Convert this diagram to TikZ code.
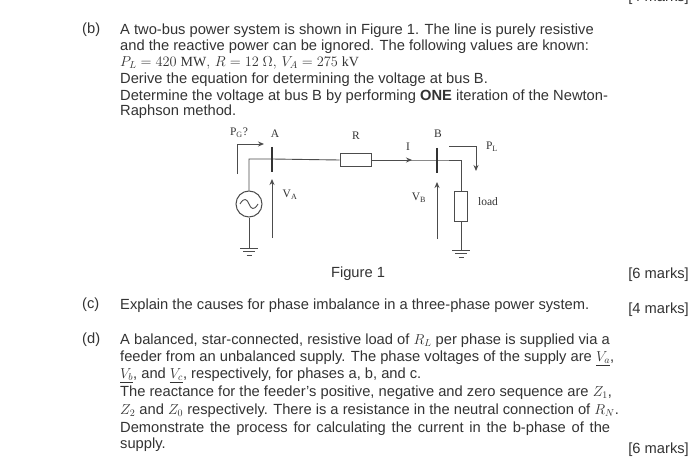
\documentclass[tikz,border=0pt]{standalone}
\usepackage{fontspec}
\setmainfont{Liberation Sans}
\newfontfamily\fig{Liberation Serif}
\usepackage{tikz}
\usetikzlibrary{arrows.meta}
\begin{document}
\begin{tikzpicture}[x=1pt,y=-1pt]
\tikzstyle{line}=[anchor=west,inner sep=0pt,text=black!80,font=\fontsize{14.7}{14.7}\selectfont]
\tikzstyle{marks}=[anchor=east,inner sep=0pt,text=black!80,font=\fontsize{14.7}{14.7}\selectfont]
\tikzstyle{lbl}=[inner sep=0pt,text=black!80,font=\fig\fontsize{11.5}{11.5}\selectfont]
\tikzstyle{wire}=[draw=black!70,line width=0.9pt]
\tikzstyle{bar}=[draw=black!80,line width=1.8pt]
\tikzstyle{flow}=[draw=black!70,line width=0.9pt,-{Stealth[length=6pt,width=5pt]}]
\tikzstyle{box}=[rectangle,draw=black!70,line width=1pt,fill=white,inner sep=0pt]
\useasboundingbox[fill=white] (0,0) rectangle (700,473);
\node [marks] (top) at (689,-2) {[4 marks]};
\node [line] (b) at (82,30) {(b)};
\node [line] (b1) at (120,31) {A two-bus power system is shown in Figure 1. The line is purely resistive};
\node [line] (b2) at (120,47) {and the reactive power can be ignored. The following values are known:};
\node [line,font=\fontsize{14}{14}\selectfont] (b3) at (120,63) {$P_L=420~\mbox{\fig MW},\,R=12~\Omega,\,V_A=275~\mbox{\fig kV}$};
\node [line] (b4) at (120,80) {Derive the equation for determining the voltage at bus B.};
\node [line] (b5) at (120,97) {Determine the voltage at bus B by performing \textbf{ONE} iteration of the Newton-};
\node [line] (b6) at (120,112) {Raphson method.};
\coordinate (gena) at (249,159);
\coordinate (busa) at (272,159);
\coordinate (busb) at (437,160);
\coordinate (loadb) at (461,160);
\coordinate (itip) at (412,160);
\coordinate (gnda) at (249,248);
\coordinate (gndb) at (461,250);
\node [box,circle,minimum size=26pt] (gen) at (249,204) {};
\node [box,minimum width=31pt,minimum height=13pt] (r) at (355.5,160) {};
\node [box,minimum width=13pt,minimum height=30pt] (load) at (461,206) {};
\draw[wire] (gen.north) -- (gena) -- (busa) -- (r.west);
\draw[wire] (r.east) -- (busb) -- (loadb) -- (load.north);
\draw[flow] (r.east) -- (itip);
\draw[wire] (gen.south) -- (gnda);
\draw[wire] (load.south) -- (gndb);
\draw[wire] ([xshift=-9pt]gen.center) .. controls ([xshift=-5pt,yshift=7pt]gen.center) and ([xshift=-2pt,yshift=5pt]gen.center) .. (gen.center) .. controls ([xshift=2pt,yshift=-5pt]gen.center) and ([xshift=5pt,yshift=-7pt]gen.center) .. ([xshift=9pt]gen.center);
\draw[bar] ([yshift=12pt]busa) -- ([yshift=-13pt]busa);
\draw[bar] ([yshift=12pt]busb) -- ([yshift=-13pt]busb);
\foreach \g in {gnda,gndb} {
\draw[wire] ([xshift=-9pt]\g) -- ([xshift=9pt]\g);
\draw[wire] ([xshift=-6pt,yshift=-3.5pt]\g) -- ([xshift=6pt,yshift=-3.5pt]\g);
\draw[wire] ([xshift=-2.5pt,yshift=-7pt]\g) -- ([xshift=2.5pt,yshift=-7pt]\g);
}
\coordinate (pga) at (237,174);
\coordinate (pgb) at (237,144);
\coordinate (pgc) at (264,144);
\coordinate (pla) at (449,146);
\coordinate (plb) at (476,146);
\coordinate (plc) at (476,171);
\coordinate (vaa) at (272,238);
\coordinate (vab) at (272,179);
\coordinate (vba) at (437,239);
\coordinate (vbb) at (437,182);
\draw[flow] (pga) -- (pgb) -- (pgc);
\draw[flow] (pla) -- (plb) -- (plc);
\draw[flow] (vaa) -- (vab);
\draw[flow] (vba) -- (vbb);
\node [lbl] (pg) at (239,133) {P\textsubscript{G}?};
\node [lbl] (a) at (275,134) {A};
\node [lbl] (rl) at (356,136) {R};
\node [lbl] (i) at (408,147) {I};
\node [lbl] (bl) at (438,134) {B};
\node [lbl] (pl) at (492,147) {P\textsubscript{L}};
\node [lbl] (va) at (290,195) {V\textsubscript{A}};
\node [lbl] (vb) at (419,198) {V\textsubscript{B}};
\node [lbl] (ld) at (488,202) {load};
\node [line,anchor=center] (fig1) at (358,274) {Figure 1};
\node [marks] (m6) at (689,275) {[6 marks]};
\node [line] (c) at (82,305) {(c)};
\node [line] (c1) at (120,306) {Explain the causes for phase imbalance in a three-phase power system.};
\node [marks] (m4) at (689,310) {[4 marks]};
\node [line] (d) at (82,340) {(d)};
\node [line] (d1) at (120,341) {A balanced, star-connected, resistive load of $R_L$ per phase is supplied via a};
\node [line] (d2) at (120,358) {feeder from an unbalanced supply. The phase voltages of the supply are \underline{$V_a$},};
\node [line] (d3) at (120,375) {\underline{$V_b$}, and \underline{$V_c$}, respectively, for phases a, b, and c.};
\node [line] (d4) at (120,393) {The reactance for the feeder's positive, negative and zero sequence are $Z_1$,};
\node [line] (d5) at (120,411) {$Z_2$ and $Z_0$ respectively. There is a resistance in the neutral connection of $R_N$.};
\node [line] (d6) at (120,429) {\makebox[490pt][s]{Demonstrate the process for calculating the current in the b-phase of the}};
\node [line] (d7) at (120,445) {supply.};
\node [marks] (m62) at (689,450) {[6 marks]};
\end{tikzpicture}
\end{document}
